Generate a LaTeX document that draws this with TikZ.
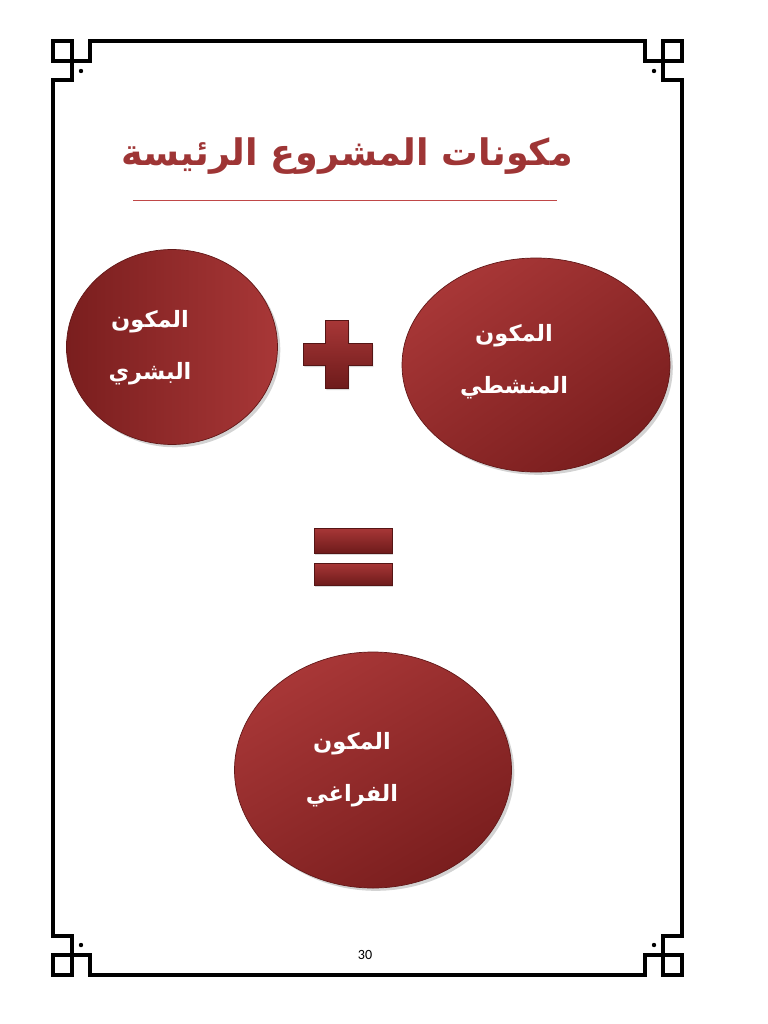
\documentclass[tikz,border=0pt]{standalone}
\usepackage{fontspec}
\usetikzlibrary{shapes.geometric,shadows,positioning}
\TeXXeTstate=1
\newfontfamily\arabicfont[Script=Arabic]{DejaVu Sans}
\newfontfamily\pagefont{Carlito}
\definecolor{balldark}{HTML}{7A1E1E}
\definecolor{balllight}{HTML}{A83737}
\definecolor{titlered}{HTML}{9E3535}
\definecolor{rulered}{HTML}{C04848}

\tikzset{
  ball/.style={ellipse, inner sep=0pt, draw=balldark!80!black, line width=0.5pt,
    top color=balllight, bottom color=balldark,
    drop shadow={opacity=0.35, shadow xshift=2pt, shadow yshift=-2pt}},
  balltext/.style={text=white, align=center, font=\arabicfont\bfseries\fontsize{16}{37}\selectfont},
  bar/.style={draw=balldark!70!black, line width=0.4pt, top color=balllight, bottom color=balldark!90!black,
    drop shadow={opacity=0.3, shadow xshift=1pt, shadow yshift=-1.5pt}},
  frame/.style={line width=2.2pt, line join=miter}
}

\begin{document}
\begin{tikzpicture}[x=0.025cm,y=-0.025cm]
    \useasboundingbox (0,0) rectangle (768,1024);

    % draw the page frame
    \draw[frame] (90,41) -- (645,41) -- (645,61) -- (663,61) -- (663,80) -- (682,80)
        -- (682,936) -- (663,936) -- (663,955) -- (645,955) -- (645,975)
        -- (90,975) -- (90,955) -- (72,955) -- (72,936) -- (53,936)
        -- (53,80) -- (72,80) -- (72,61) -- (90,61) -- cycle;
    \draw[frame] (53,41) rectangle (72,61);
    \draw[frame] (663,41) rectangle (682,61);
    \draw[frame] (53,955) rectangle (72,975);
    \draw[frame] (663,955) rectangle (682,975);

    % small dots in the corners
    \fill (81,71) circle(2.2);
    \fill (654,71) circle(2.2);
    \fill (81,945) circle(2.2);
    \fill (654,945) circle(2.2);

    % title
    \node[text=titlered, font=\arabicfont\bfseries\fontsize{26}{30}\selectfont] (title) at (347,156)
        {\beginR مكونات المشروع الرئيسة\endR};
    \draw[rulered, line width=0.6pt] (133,200) -- (557,200);

    % the three components
    \node[ball, shading angle=-90, minimum width=211*0.025cm, minimum height=195*0.025cm] (bashari) at (172,347) {};
    \node[ball, shading angle=35, minimum width=268*0.025cm, minimum height=214*0.025cm] (munashit) at (536,365) {};
    \node[ball, shading angle=30, minimum width=277*0.025cm, minimum height=236*0.025cm] (faraghi) at (373,770) {};

    % text in the ellipses
    \node[balltext] (basharitext) at (150,348) {\beginR المكون\endR\\\beginR البشري\endR};
    \node[balltext] (munashittext) at (514,362) {\beginR المكون\endR\\\beginR المنشطي\endR};
    \node[balltext] (faraghitext) at (352,770) {\beginR المكون\endR\\\beginR الفراغي\endR};

    % plus sign
    \shade[bar] (325,320) -- (348,320) -- (348,343) -- (372,343) -- (372,365) -- (348,365)
        -- (348,388) -- (325,388) -- (325,365) -- (303,365) -- (303,343) -- (325,343) -- cycle;

    % equals sign
    \shade[bar] (314,528) rectangle (392,553);
    \shade[bar] (314,563) rectangle (392,585);

    % page number
    \node[font=\pagefont\fontsize{10}{12}\selectfont] (pagenum) at (365,955) {30};
\end{tikzpicture}
\end{document}
